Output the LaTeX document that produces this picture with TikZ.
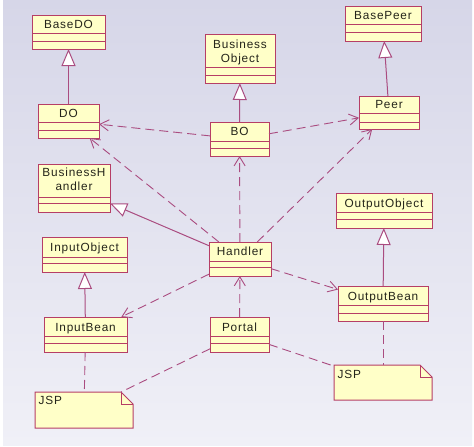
\documentclass[tikz,border=0pt]{standalone}
\usepackage{fontspec}
\newfontfamily\umlfont{Liberation Sans}[LetterSpace=7]
\usetikzlibrary{arrows.meta}
\definecolor{bgtop}{RGB}{214,214,232}
\definecolor{bgbot}{RGB}{240,240,247}
\definecolor{boxfill}{RGB}{255,255,200}
\definecolor{boxline}{RGB}{182,62,102}
\definecolor{conn}{RGB}{170,76,128}
\definecolor{txt}{RGB}{36,36,26}
\tikzset{
  classbox/.style={rectangle, draw=boxline, fill=boxfill, line width=1pt, inner sep=0pt, outer sep=0pt},
  compline/.style={draw=boxline, line width=1pt},
  notebox/.style={rectangle, inner sep=0pt, outer sep=0pt},
  noteline/.style={draw=boxline, fill=boxfill, line width=1pt, line join=miter},
  cname/.style={font=\umlfont\fontsize{11.8}{13.5}\selectfont, text=txt, inner sep=0pt, anchor=base, align=center},
  dep/.style={draw=conn, line width=0.9pt, dash pattern=on 9pt off 5pt, -{Straight Barb[length=9pt,width=11pt]}},
  inh/.style={draw=conn, line width=1pt, -{Triangle[length=17pt,width=14pt,fill=white]}},
  assoc/.style={draw=conn, line width=0.9pt, dash pattern=on 9pt off 5pt},
}
% name, x1, y1, x2, y2, line1, line2
\newcommand\umlbox[7]{%
  \node[classbox, minimum width={(#4-#2)*1pt}, minimum height={(#5-#3)*1pt}] (#1) at ({(#2+#4)/2},{(#3+#5)/2}) {};
  \draw[compline] (#2,#6) -- (#4,#6) (#2,#7) -- (#4,#7);
}
\begin{document}
\begin{tikzpicture}[x=1pt,y=-1pt]
\useasboundingbox (0,0) rectangle (474,447);
\fill[white] (0,0) rectangle (474,447);
\shade[top color=bgtop, bottom color=bgbot] (3,0) rectangle (472,445);

% classes
\umlbox{basedo}{32}{15}{105}{49}{33}{41}
\umlbox{do}{38}{104}{99}{138}{122}{130}
\umlbox{bobj}{205}{34}{275}{83}{67}{75}
\umlbox{bo}{210}{122}{269}{156}{141}{148}
\umlbox{basepeer}{345}{6}{421}{41}{24}{32}
\umlbox{peer}{359}{96}{419}{129}{113}{122}
\umlbox{bh}{38}{164}{110}{212}{197}{203}
\umlbox{inobj}{42}{237}{127}{272}{257}{263}
\umlbox{handler}{209}{242}{271}{276}{261}{267}
\umlbox{portal}{210}{317}{269}{352}{336}{343}
\umlbox{outobj}{336}{193}{432}{228}{212}{219}
\umlbox{outbean}{338}{286}{428}{321}{305}{313}
\umlbox{inbean}{44}{317}{127}{352}{336}{343}

\node[cname] (basedo-name) at (68.5,28.5) {BaseDO};
\node[cname] (do-name) at (68.5,117.5) {DO};
\node[cname, anchor=center] (bobj-name) at (240,52.5) {Business\\Object};
\node[cname] (bo-name) at (239.5,135.5) {BO};
\node[cname] (basepeer-name) at (383,19.5) {BasePeer};
\node[cname] (peer-name) at (389,108.5) {Peer};
\node[cname, anchor=center] (bh-name) at (74,179.5) {BusinessH\\andler};
\node[cname] (inobj-name) at (84.5,251) {InputObject};
\node[cname] (handler-name) at (240,255.5) {Handler};
\node[cname] (portal-name) at (239.5,331) {Portal};
\node[cname] (outobj-name) at (384,207) {OutputObject};
\node[cname] (outbean-name) at (383,300) {OutputBean};
\node[cname] (inbean-name) at (85.5,331) {InputBean};

% notes
\node[notebox, minimum width=98pt, minimum height=36pt] (jspa) at (84,410) {};
\draw[noteline] (35,392) -- (121,392) -- (133,404) -- (133,428) -- (35,428) -- cycle;
\draw[compline] (121,392) -- (121,404) -- (133,404);
\node[cname, anchor=base west] (jspa-text) at (38.5,404.5) {JSP};

\node[notebox, minimum width=98pt, minimum height=35pt] (jspb) at (383,382.5) {};
\draw[noteline] (334,365) -- (420,365) -- (432,377) -- (432,400) -- (334,400) -- cycle;
\draw[compline] (420,365) -- (420,377) -- (432,377);
\node[cname, anchor=base west] (jspb-text) at (337.5,378) {JSP};

% generalisations
\draw[inh] (do) -- (basedo);
\draw[inh] (bo) -- (bobj);
\draw[inh] (peer) -- (basepeer);
\draw[inh] (handler) -- (bh);
\draw[inh] (inbean) -- (inobj);
\draw[inh] (outbean) -- (outobj);

% dependencies
\draw[dep] (bo) -- (do);
\draw[dep] (bo) -- (peer);
\draw[dep] (handler) -- (do);
\draw[dep] (handler) -- (bo);
\draw[dep] (handler) -- (peer);
\draw[dep] (handler) -- (inbean);
\draw[dep] (handler) -- (outbean);
\draw[dep] (portal) -- (handler);

% note links
\draw[assoc] (inbean) -- (jspa);
\draw[assoc] (portal) -- (jspa);
\draw[assoc] (portal) -- (jspb);
\draw[assoc] (outbean) -- (jspb);
\end{tikzpicture}
\end{document}
